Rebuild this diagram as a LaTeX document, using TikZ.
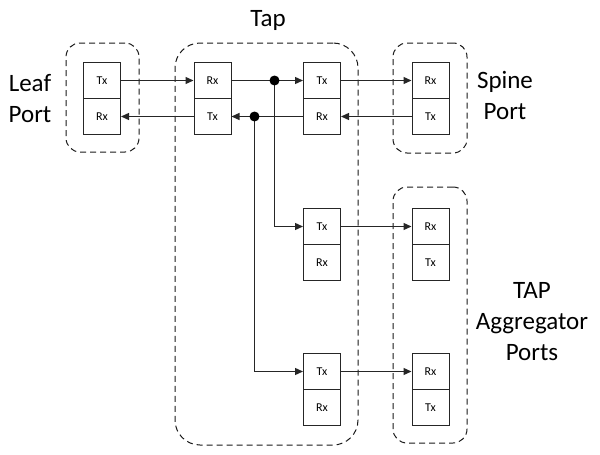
\documentclass[tikz,border=0pt]{standalone}
\usepackage{fontspec}
\setmainfont{Carlito}
\usetikzlibrary{arrows.meta}
\begin{document}
\begin{tikzpicture}[x=1pt,y=-1pt,
 cell/.style={draw=black!85, line width=1pt, minimum width=37pt, minimum height=36pt, inner sep=0pt, font=\fontsize{12}{14}\selectfont},
 grp/.style={draw=black!90, dash pattern=on 6pt off 4pt, line width=1pt, rounded corners=14pt, inner sep=0pt},
 link/.style={draw=black!85, line width=1.3pt, -{Triangle[length=8pt,width=7pt]}},
 dot/.style={circle, fill=black, inner sep=0pt, minimum size=10pt},
 lbl/.style={font=\fontsize{25}{31}\selectfont, align=center, inner sep=0pt}]
\useasboundingbox (0,0) rectangle (600,455);
% groups
\node[grp, minimum width=73pt, minimum height=109pt] (leafgrp) at (102.5,97.5) {};
\node[grp, minimum width=183pt, minimum height=402pt, rounded corners=25pt] (tapgrp) at (266.5,244) {};
\node[grp, minimum width=74pt, minimum height=110pt] (spinegrp) at (430,98) {};
\node[grp, minimum width=74pt, minimum height=256pt] (agggrp) at (430,315) {};
% cells
\node[cell] (lT) at (102,80.5) {Tx};
\node[cell] (lR) at (102,116.5) {Rx};
\node[cell] (aR) at (212.5,80.5) {Rx};
\node[cell] (aT) at (212.5,116.5) {Tx};
\node[cell] (bT) at (322,80.5) {Tx};
\node[cell] (bR) at (322,116.5) {Rx};
\node[cell] (sR) at (430.5,80.5) {Rx};
\node[cell] (sT) at (430.5,116.5) {Tx};
\node[cell] (cT) at (322,226.5) {Tx};
\node[cell] (cR) at (322,262.5) {Rx};
\node[cell] (gR) at (430.5,226.5) {Rx};
\node[cell] (gT) at (430.5,262.5) {Tx};
\node[cell] (dT) at (322,371.5) {Tx};
\node[cell] (dR) at (322,407.5) {Rx};
\node[cell] (hR) at (430.5,371.5) {Rx};
\node[cell] (hT) at (430.5,407.5) {Tx};
% dots
\coordinate (d1) at (274.5,80.5);
\coordinate (d2) at (254.5,116.5);
% connectors
\draw[link] (lT.east) -- (aR.west);
\draw[link] (aR.east) -- (bT.west);
\draw[link] (bT.east) -- (sR.west);
\draw[link] (sT.west) -- (bR.east);
\draw[link] (bR.west) -- (aT.east);
\draw[link] (aT.west) -- (lR.east);
\draw[link] (d1) |- (cT.west);
\draw[link] (d2) |- (dT.west);
\draw[link] (cT.east) -- (gR.west);
\draw[link] (dT.east) -- (hR.west);
\node[dot] (dot1) at (d1) {};
\node[dot] (dot2) at (d2) {};
% labels
\node[lbl, anchor=base] (taplbl) at (268,27) {Tap};
\node[lbl] (leaflbl) at (30,99) {Leaf\\Port};
\node[lbl] (spinelbl) at (505,95) {Spine\\Port};
\node[lbl] (agglbl) at (532,322) {TAP\\Aggregator\\Ports};
\end{tikzpicture}
\end{document}
